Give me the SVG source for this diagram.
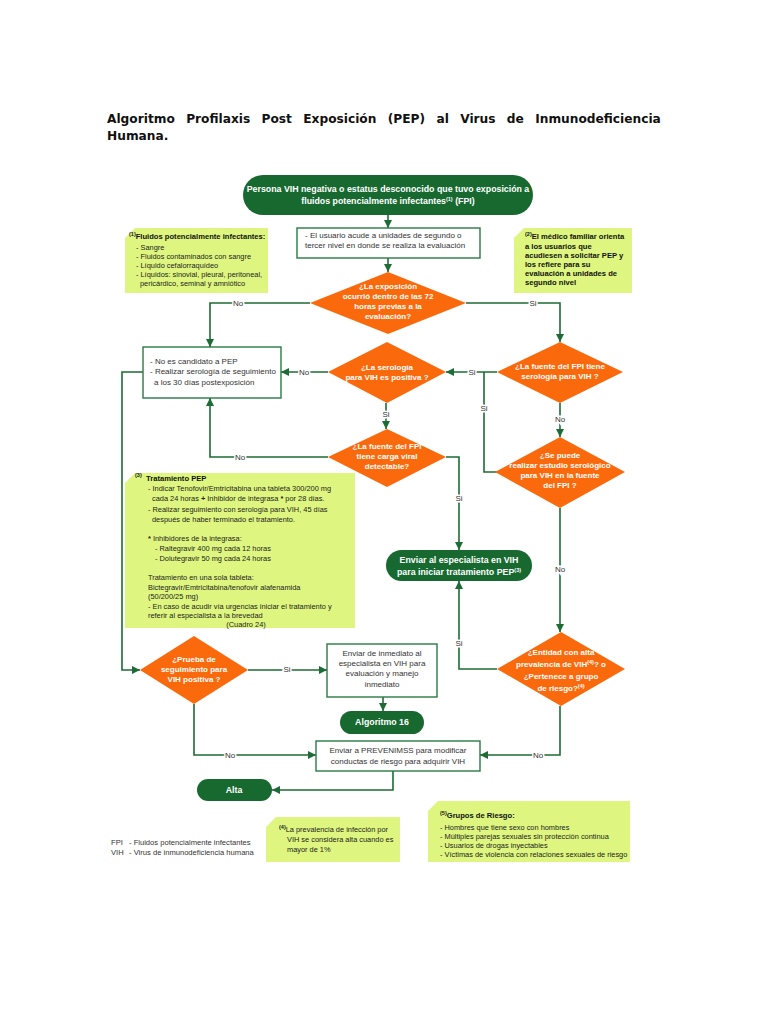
<svg xmlns="http://www.w3.org/2000/svg" width="768" height="1024" viewBox="0 0 768 1024" xml:space="preserve">
<defs>
<marker id="ah" viewBox="0 0 10 10" refX="10" refY="5" markerWidth="8" markerHeight="8" markerUnits="userSpaceOnUse" orient="auto">
<path d="M0,0 L10,5 L0,10 z" fill="#1d6b35"/>
</marker>
<style>
.bg{fill:#ffffff}
.title{font-family:"DejaVu Sans",Verdana,sans-serif;font-weight:bold;font-size:12.2px;fill:#111}
.pill{fill:#17692f}
.pt{font-family:"Liberation Sans",Arial,sans-serif;font-weight:bold;font-size:8.8px;fill:#fff;text-anchor:middle}
.box{fill:#fff;stroke:#2a7a45;stroke-width:1.4}
.bt{font-family:"Liberation Sans",Arial,sans-serif;font-size:8px;fill:#333}
.btc{font-family:"Liberation Sans",Arial,sans-serif;font-size:8px;fill:#333;text-anchor:middle}
.dia{fill:#fa6a0c}
.dt{font-family:"Liberation Sans",Arial,sans-serif;font-weight:bold;font-size:8px;fill:#fff;text-anchor:middle}
.note{fill:#def67f}
.nt{font-family:"Liberation Sans",Arial,sans-serif;font-size:7.4px;fill:#222}
.ntb{font-family:"Liberation Sans",Arial,sans-serif;font-size:7.6px;font-weight:bold;fill:#111}
.sup{font-size:5.5px}
.ln{fill:none;stroke:#1d6b35;stroke-width:1.6}
.lab{font-family:"Liberation Sans",Arial,sans-serif;font-size:8px;fill:#333;text-anchor:middle;stroke:#fff;stroke-width:3;paint-order:stroke}
.leg{font-family:"Liberation Sans",Arial,sans-serif;font-size:7.6px;fill:#333}
</style>
</defs>
<rect class="bg" x="0" y="0" width="768" height="1024"/>

<g id="title">
<text class="title" x="107" y="123" word-spacing="7.1">Algoritmo Profilaxis Post Exposición (PEP) al Virus de Inmunodeficiencia</text>
<text class="title" x="107" y="140">Humana.</text>
</g>

<g id="connectors">
<path class="ln" d="M388,215 V228" marker-end="url(#ah)"/>
<path class="ln" d="M388,258 V272" marker-end="url(#ah)"/>
<path class="ln" d="M310,303 H210 V347" marker-end="url(#ah)"/>
<path class="ln" d="M466,303 H560 V342" marker-end="url(#ah)"/>
<path class="ln" d="M328,372 H281" marker-end="url(#ah)"/>
<path class="ln" d="M497,372 H446" marker-end="url(#ah)"/>
<path class="ln" d="M484,372 V472 H497"/>
<path class="ln" d="M560,403 V437" marker-end="url(#ah)"/>
<path class="ln" d="M386,403 V429" marker-end="url(#ah)"/>
<path class="ln" d="M328,457 H210 V398" marker-end="url(#ah)"/>
<path class="ln" d="M446,457 H459 V550" marker-end="url(#ah)"/>
<path class="ln" d="M560,508 V632" marker-end="url(#ah)"/>
<path class="ln" d="M497,669 H459 V581" marker-end="url(#ah)"/>
<path class="ln" d="M560,706 V755 H480" marker-end="url(#ah)"/>
<path class="ln" d="M143,372 H122 V670 H140" marker-end="url(#ah)"/>
<path class="ln" d="M248,670 H327" marker-end="url(#ah)"/>
<path class="ln" d="M383,697 V711" marker-end="url(#ah)"/>
<path class="ln" d="M194,704 V755 H316" marker-end="url(#ah)"/>
<path class="ln" d="M393,771 V790 H272" marker-end="url(#ah)"/>
<text class="lab" x="238" y="306">No</text>
<text class="lab" x="533" y="306">Si</text>
<text class="lab" x="304" y="375">No</text>
<text class="lab" x="472" y="375">Si</text>
<text class="lab" x="484" y="411">Si</text>
<text class="lab" x="560" y="422">No</text>
<text class="lab" x="386" y="417">Si</text>
<text class="lab" x="240" y="460">No</text>
<text class="lab" x="459" y="501">Si</text>
<text class="lab" x="560" y="572">No</text>
<text class="lab" x="459" y="646">Si</text>
<text class="lab" x="538" y="758">No</text>
<text class="lab" x="287" y="672">Si</text>
<text class="lab" x="230" y="758">No</text>
</g>

<g id="start">
<rect class="pill" x="243" y="175" width="290" height="40" rx="20"/>
<text class="pt" x="388" y="192">Persona VIH negativa o estatus desconocido que tuvo exposición a</text>
<text class="pt" x="388" y="204">fluidos potencialmente infectantes<tspan class="sup" dy="-3">(1)</tspan><tspan dy="3"> (FPI)</tspan></text>
</g>

<g id="usuario">
<rect class="box" x="297" y="228" width="183" height="30"/>
<text class="bt" x="305" y="238">- El usuario acude a unidades de segundo o</text>
<text class="bt" x="305" y="248">tercer nivel en donde se realiza la evaluación</text>
</g>

<g id="note1">
<polygon class="note" points="135,228 268,228 268,293 125,293 125,238"/>
<text class="ntb" x="129" y="236"><tspan class="sup">(1)</tspan><tspan dy="3">Fluidos potencialmente infectantes:</tspan></text>
<text class="nt" x="136" y="250">- Sangre</text>
<text class="nt" x="136" y="259">- Fluidos contaminados con sangre</text>
<text class="nt" x="136" y="268">- Líquido cefalorraquídeo</text>
<text class="nt" x="136" y="277">- Líquidos: sinovial, pleural, peritoneal,</text>
<text class="nt" x="140" y="286">pericárdico, seminal y amniótico</text>
</g>

<g id="note2">
<polygon class="note" points="524,228 632,228 632,293 514,293 514,238"/>
<text class="ntb" x="525" y="236"><tspan class="sup">(2)</tspan><tspan dy="3">El médico familiar orienta</tspan></text>
<text class="ntb" x="525" y="249">a los usuarios que</text>
<text class="ntb" x="525" y="258">acudiesen a solicitar PEP y</text>
<text class="ntb" x="525" y="267">los refiere para su</text>
<text class="ntb" x="525" y="276">evaluación a unidades de</text>
<text class="ntb" x="525" y="285">segundo nivel</text>
</g>

<g id="d1">
<polygon class="dia" points="388,272 466,303 388,334 310,303"/>
<text class="dt" x="388" y="289">¿La exposición</text>
<text class="dt" x="388" y="299">ocurrió dentro de las  72</text>
<text class="dt" x="388" y="309">horas previas a la</text>
<text class="dt" x="388" y="319">evaluación?</text>
</g>

<g id="nocandidato">
<rect class="box" x="143" y="347" width="138" height="51"/>
<text class="bt" x="150" y="364">- No es candidato a PEP</text>
<text class="bt" x="150" y="374">- Realizar serología de seguimiento</text>
<text class="bt" x="154" y="385">a los 30 días postexposición</text>
</g>

<g id="d2">
<polygon class="dia" points="387,342 446,372 387,403 328,372"/>
<text class="dt" x="387" y="370">¿La serología</text>
<text class="dt" x="387" y="380">para VIH es positiva ?</text>
</g>

<g id="d3">
<polygon class="dia" points="560,342 623,372 560,403 497,372"/>
<text class="dt" x="560" y="369">¿La fuente del FPI tiene</text>
<text class="dt" x="560" y="379">serología para VIH ?</text>
</g>

<g id="d4">
<polygon class="dia" points="560,437 625,472 560,508 495,472"/>
<text class="dt" x="560" y="458">¿Se puede</text>
<text class="dt" x="560" y="468">realizar  estudio serológico</text>
<text class="dt" x="560" y="478">para VIH en la fuente</text>
<text class="dt" x="560" y="488">del FPI ?</text>
</g>

<g id="d5">
<polygon class="dia" points="387,429 446,457 387,487 328,457"/>
<text class="dt" x="387" y="449">¿La fuente del FPI</text>
<text class="dt" x="387" y="459">tiene carga viral</text>
<text class="dt" x="387" y="469">detectable?</text>
</g>

<g id="note3">
<polygon class="note" points="135,473 355,473 355,628 125,628 125,483"/>
<text class="ntb" x="135" y="477"><tspan class="sup">(3)</tspan></text>
<text class="ntb" x="146" y="481">Tratamiento PEP</text>
<text class="nt" x="148" y="491">- Indicar Tenofovir/Emtricitabina una tableta 300/200 mg</text>
<text class="nt" x="152" y="501">cada 24 horas <tspan font-weight="bold">+</tspan> Inhibidor de integrasa <tspan font-weight="bold">*</tspan> por 28 días.</text>
<text class="nt" x="148" y="512">- Realizar seguimiento con serología para VIH,  45 días</text>
<text class="nt" x="152" y="522">después de haber terminado el tratamiento.</text>
<text class="nt" x="148" y="541"><tspan font-weight="bold">*</tspan> Inhibidores de la integrasa:</text>
<text class="nt" x="155" y="551">- Raltegravir 400 mg cada 12 horas</text>
<text class="nt" x="155" y="561">- Dolutegravir 50 mg cada 24 horas</text>
<text class="nt" x="148" y="580">Tratamiento en una sola tableta:</text>
<text class="nt" x="148" y="590">Bictegravir/Emtricitabina/tenofovir alafenamida</text>
<text class="nt" x="148" y="599">(50/200/25 mg)</text>
<text class="nt" x="148" y="609">- En caso de acudir vía urgencias iniciar el tratamiento y</text>
<text class="nt" x="148" y="618">referir al especialista a la brevedad</text>
<text class="nt" x="246" y="627" text-anchor="middle">(Cuadro 24)</text>
</g>

<g id="especialista">
<rect class="pill" x="386" y="550" width="146" height="31" rx="15.5"/>
<text class="pt" x="459" y="563">Enviar al especialista en VIH</text>
<text class="pt" x="459" y="575">para iniciar tratamiento PEP<tspan class="sup" dy="-3">(3)</tspan></text>
</g>

<g id="d6">
<polygon class="dia" points="561,632 625,669 561,706 497,669"/>
<text class="dt" x="561" y="655">¿Entidad con alta</text>
<text class="dt" x="561" y="667">prevalencia de VIH<tspan class="sup" dy="-3">(4)</tspan><tspan dy="3">? o</tspan></text>
<text class="dt" x="561" y="679">¿Pertenece a grupo</text>
<text class="dt" x="561" y="691">de  riesgo?<tspan class="sup" dy="-3">(4)</tspan></text>
</g>

<g id="d7">
<polygon class="dia" points="194,636 248,670 194,704 140,670"/>
<text class="dt" x="194" y="662">¿Prueba de</text>
<text class="dt" x="194" y="672">seguimiento para</text>
<text class="dt" x="194" y="682">VIH positiva ?</text>
</g>

<g id="inmediato">
<rect class="box" x="327" y="644" width="110" height="53"/>
<text class="btc" x="382" y="656">Enviar  de inmediato al</text>
<text class="btc" x="382" y="666">especialista en VIH para</text>
<text class="btc" x="382" y="676">evaluación y manejo</text>
<text class="btc" x="382" y="687">inmediato</text>
</g>

<g id="algoritmo16">
<rect class="pill" x="340" y="711" width="84" height="23" rx="11.5"/>
<text class="pt" x="382" y="725">Algoritmo 16</text>
</g>

<g id="prevenimss">
<rect class="box" x="316" y="741" width="164" height="30"/>
<text class="btc" x="398" y="753">Enviar a PREVENIMSS para modificar</text>
<text class="btc" x="398" y="764">conductas de riesgo para adquirir VIH</text>
</g>

<g id="alta">
<rect class="pill" x="197" y="779" width="75" height="22" rx="11"/>
<text class="pt" x="234" y="793">Alta</text>
</g>

<g id="legend">
<text class="leg" x="111" y="845">FPI<tspan x="129">- Fluidos potencialmente infectantes</tspan></text>
<text class="leg" x="111" y="855">VIH<tspan x="129">- Virus de inmunodeficiencia humana</tspan></text>
</g>

<g id="note4">
<polygon class="note" points="276,817 400,817 400,862 266,862 266,827"/>
<text class="nt" x="279" y="829"><tspan class="sup" font-weight="bold">(4)</tspan><tspan dy="3">La prevalencia de infección por</tspan></text>
<text class="nt" x="287" y="842">VIH se considera alta cuando es</text>
<text class="nt" x="287" y="852">mayor de 1%</text>
</g>

<g id="note5">
<polygon class="note" points="438,801 630,801 630,862 428,862 428,811"/>
<text class="ntb" x="440" y="815"><tspan class="sup">(5)</tspan><tspan dy="3">Grupos de Riesgo:</tspan></text>
<text class="nt" x="440" y="830">- Hombres que tiene sexo con hombres</text>
<text class="nt" x="440" y="839">- Múltiples parejas sexuales sin protección continua</text>
<text class="nt" x="440" y="848">- Usuarios de drogas inyectables</text>
<text class="nt" x="440" y="857">- Víctimas de violencia con relaciones sexuales de riesgo</text>
</g>
</svg>
